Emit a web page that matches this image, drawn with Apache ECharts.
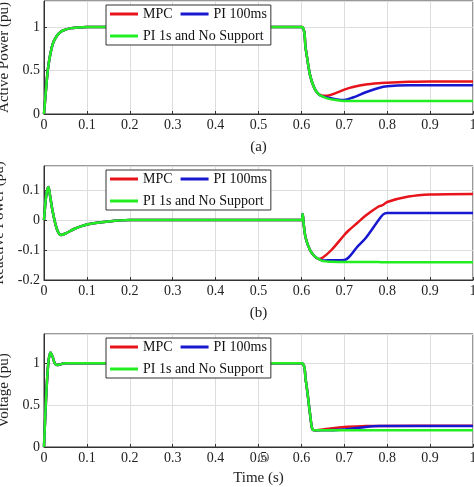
<!DOCTYPE html>
<html>
<head>
<meta charset="utf-8">
<script src="https://cdn.jsdelivr.net/npm/echarts@6/dist/echarts.min.js"></script>
<style>
  html, body { margin: 0; padding: 0; background: #fff; }
  #chart { width: 474px; height: 487px; }
</style>
</head>
<body>
<div id="chart"></div>
<script>
// series names
const seriesNames = ['MPC', 'PI 100ms', 'PI 1s and No Support'];
const seriesColors = ['#e8141c', '#1818d0', '#22ee22'];

// (a) active power
const timeA = [0,0.005,0.01,0.02,0.03,0.04,0.05,0.06,0.08,0.1,0.6,0.61,0.62,0.63,0.64,0.65,0.66,0.68,0.7,0.72,0.75,0.78,0.8,0.85,0.9,1];
const pA_mpc = [0,0.3,0.55,0.8,0.9,0.95,0.97,0.985,0.995,1,1,0.75,0.45,0.3,0.23,0.21,0.21,0.24,0.28,0.31,0.34,0.355,0.36,0.37,0.375,0.375];
const pA_pi = [0,0.3,0.55,0.8,0.9,0.95,0.97,0.985,0.995,1,1,0.75,0.45,0.3,0.23,0.2,0.19,0.17,0.16,0.19,0.25,0.3,0.32,0.33,0.33,0.33];
const pA_no = [0,0.3,0.55,0.8,0.9,0.95,0.97,0.985,0.995,1,1,0.75,0.45,0.3,0.23,0.2,0.18,0.16,0.15,0.15,0.15,0.15,0.15,0.15,0.15,0.15];

// (b) reactive power
const timeB = [0,0.005,0.01,0.012,0.02,0.03,0.04,0.05,0.07,0.1,0.15,0.2,0.6,0.603,0.605,0.61,0.62,0.63,0.64,0.65,0.67,0.7,0.71,0.73,0.75,0.78,0.79,0.8,0.85,0.9,1];
const qB_mpc = [0,0.08,0.11,0.1,0.03,-0.03,-0.05,-0.045,-0.03,-0.015,-0.005,0,0,0.02,-0.01,-0.06,-0.1,-0.12,-0.13,-0.125,-0.1,-0.05,-0.035,-0.01,0.015,0.045,0.05,0.06,0.078,0.085,0.087];
const qB_pi = [0,0.08,0.11,0.1,0.03,-0.03,-0.05,-0.045,-0.03,-0.015,-0.005,0,0,0.02,-0.01,-0.06,-0.1,-0.12,-0.13,-0.135,-0.134,-0.133,-0.125,-0.09,-0.06,0,0.018,0.023,0.023,0.023,0.023];
const qB_no = [0,0.08,0.11,0.1,0.03,-0.03,-0.05,-0.045,-0.03,-0.015,-0.005,0,0,0.02,-0.01,-0.06,-0.1,-0.12,-0.13,-0.137,-0.139,-0.14,-0.14,-0.14,-0.14,-0.14,-0.141,-0.141,-0.141,-0.141,-0.141];

// (c) voltage
const timeC = [0,0.005,0.01,0.015,0.02,0.025,0.03,0.04,0.05,0.6,0.61,0.62,0.625,0.63,0.65,0.7,0.75,0.78,1];
const vC_mpc = [0,0.6,1.0,1.13,1.08,1.0,0.98,0.99,1,1,0.8,0.4,0.22,0.2,0.21,0.24,0.25,0.252,0.255];
const vC_pi = [0,0.6,1.0,1.13,1.08,1.0,0.98,0.99,1,1,0.8,0.4,0.22,0.2,0.2,0.21,0.24,0.25,0.25];
const vC_no = [0,0.6,1.0,1.13,1.08,1.0,0.98,0.99,1,1,0.8,0.4,0.22,0.2,0.2,0.2,0.2,0.2,0.2];

const font = 'Liberation Serif';
const zip = (t, v) => t.map((x, i) => [x, v[i]]);

const panels = [
  {time: timeA, vals: [pA_mpc, pA_pi, pA_no], name: 'Active Power (pu)', min: 0, max: 1.3, interval: 0.5, top: 1, bottom: 114, xname: '(a)'},
  {time: timeB, vals: [qB_mpc, qB_pi, qB_no], name: 'Reactive Power (pu)', min: -0.2, max: 0.18, interval: 0.1, top: 166, bottom: 280, xname: '(b)'},
  {time: timeC, vals: [vC_mpc, vC_pi, vC_no], name: 'Voltage (pu)', min: 0, max: 1.35, interval: 0.5, top: 334, bottom: 447, xname: 'Time (s)'},
];

const grids = [], xAxes = [], yAxes = [], series = [], legends = [];
panels.forEach((p, k) => {
  grids.push({left: 44, right: 1, top: p.top, height: p.bottom - p.top, show: true, borderColor: '#333', borderWidth: 1,
    containLabel: false, outerBoundsMode: 'none'});
  xAxes.push({
    type: 'value', gridIndex: k, min: 0, max: 1, interval: 0.1,
    name: p.xname, nameLocation: 'middle', nameGap: k === 2 ? 24 : 26,
    nameTextStyle: {fontFamily: font, fontSize: 15, color: '#222'},
    axisLine: {onZero: false, lineStyle: {color: '#333'}}, axisTick: {inside: true, length: 3},
    axisLabel: {fontFamily: font, fontSize: 14, color: '#222', margin: 4, formatter: v => String(Math.round(v * 10) / 10)},
    splitLine: {lineStyle: {color: '#ddd'}}
  });
  yAxes.push({
    type: 'value', gridIndex: k, min: p.min, max: p.max, interval: p.interval,
    name: p.name, nameLocation: 'middle', nameGap: 27,
    nameTextStyle: {fontFamily: font, fontSize: 15, color: '#222'},
    axisLine: {show: true, onZero: false, lineStyle: {color: '#333'}}, axisTick: {inside: true, length: 3},
    axisLabel: {fontFamily: font, fontSize: 14, color: '#222', margin: 4, showMaxLabel: false,
      formatter: v => String(Math.round(v * 10) / 10)},
    splitLine: {lineStyle: {color: '#ddd'}}
  });
  p.vals.forEach((v, i) => {
    series.push({
      type: 'line', name: seriesNames[i], xAxisIndex: k, yAxisIndex: k,
      data: zip(p.time, v), showSymbol: false, smooth: 0.3,
      lineStyle: {width: 2.5, color: seriesColors[i]}, itemStyle: {color: seriesColors[i]}
    });
  });
  legends.push({
    top: p.top + 4, left: 106, width: 304, itemGap: 8, itemWidth: 28, itemHeight: 3,
    padding: [2, 4], borderColor: '#333', borderWidth: 1, backgroundColor: '#fff',
    textStyle: {fontFamily: font, fontSize: 14, color: '#111'},
    icon: 'rect', data: seriesNames
  });
});

const chart = echarts.init(document.getElementById('chart'));
chart.setOption({
  animation: false,
  grid: grids, xAxis: xAxes, yAxis: yAxes, series: series, legend: legends,
  graphic: [{type: 'text', left: 258, top: 452, style: {text: '(c)', font: '10px Liberation Serif', fill: '#222'}}]
});
</script>
</body>
</html>
